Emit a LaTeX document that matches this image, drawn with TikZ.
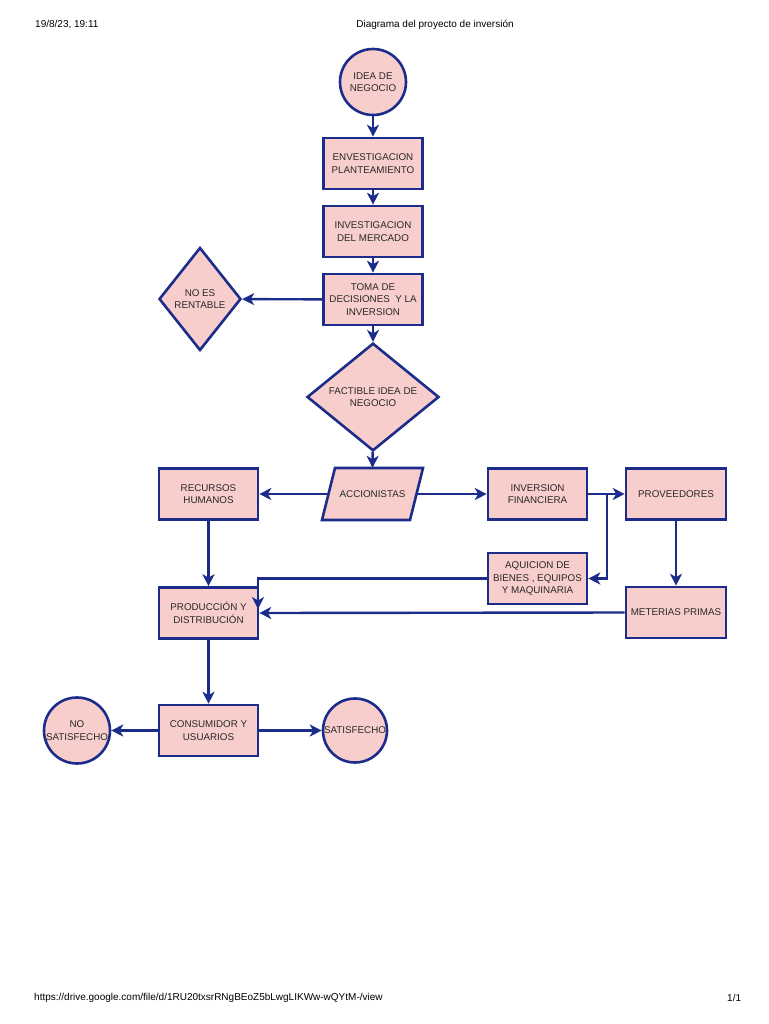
\documentclass[tikz,border=0pt]{standalone}
\usepackage{fontspec}
\setmainfont{Liberation Sans}
\usetikzlibrary{arrows.meta,shapes.geometric}
\definecolor{edgeblue}{RGB}{28,44,138}
\definecolor{boxfill}{RGB}{248,206,204}
\definecolor{txt}{RGB}{40,40,40}
\tikzset{
  base/.style={draw=edgeblue, line width=2.6pt, fill=boxfill, text=txt,
    font=\fontsize{9.8}{12.5}\selectfont, align=center, inner sep=0pt},
  boxnode/.style={base, rectangle, minimum width=99pt, minimum height=51pt},
  circnode/.style={base, circle, minimum size=66pt},
  diamnode/.style={base, diamond},
  conn/.style={draw=edgeblue, line width=2.4pt, -{Stealth[length=12pt,width=12pt,inset=3.5pt]}},
  hdr/.style={font=\fontsize{10}{12}\selectfont, text=black, inner sep=0pt}
}
\begin{document}
\begin{tikzpicture}[x=1pt,y=-1pt]
\useasboundingbox[fill=white] (0,0) rectangle (768,1024);
% header / footer
\node[hdr, anchor=west] (date) at (35,25) {19/8/23, 19:11};
\node[hdr] (title) at (435,25) {Diagrama del proyecto de inversión};
\node[hdr, anchor=west] (url) at (34,998) {https://drive.google.com/file/d/1RU20txsrRNgBEoZ5bLwgLIKWw-wQYtM-/view};
\node[hdr, anchor=west] (page) at (727,998) {1/1};
% nodes
\node[circnode] (idea) at (373,82) {IDEA DE\\NEGOCIO};
\node[boxnode] (env) at (373,163.5) {ENVESTIGACION\\PLANTEAMIENTO};
\node[boxnode] (inv) at (373,231.5) {INVESTIGACION\\DEL MERCADO};
\node[boxnode] (toma) at (373,299.5) {TOMA DE\\DECISIONES\ \ Y LA\\INVERSION};
\node[diamnode, minimum width=82pt, minimum height=103pt] (nor) at (200,299) {NO ES\\RENTABLE};
\node[diamnode, minimum width=132pt, minimum height=105pt] (fact) at (373,397) {FACTIBLE IDEA DE\\NEGOCIO};
% parallelogram
\draw[base] (335,468) -- (423,468) -- (410,520) -- (322,520) -- cycle;
\node[font=\fontsize{9.8}{12.5}\selectfont, text=txt, minimum width=87pt, minimum height=52pt, inner sep=0pt] (acc) at (372.5,494) {ACCIONISTAS};
\node[boxnode] (rh) at (208.5,494) {RECURSOS\\HUMANOS};
\node[boxnode] (if) at (537.5,494) {INVERSION\\FINANCIERA};
\node[boxnode, minimum width=100pt] (prov) at (676,494) {PROVEEDORES};
\node[boxnode] (aq) at (537.5,578.5) {AQUICION DE\\BIENES , EQUIPOS\\Y MAQUINARIA};
\node[boxnode, minimum width=100pt] (mp) at (676,612.5) {METERIAS PRIMAS};
\node[boxnode] (prod) at (208.5,613) {PRODUCCIÓN Y\\DISTRIBUCIÓN};
\node[boxnode] (cons) at (208.5,730.5) {CONSUMIDOR Y\\USUARIOS};
\node[circnode] (nos) at (77,730.5) {NO\\SATISFECHO};
\node[circnode, minimum size=64pt] (sat) at (355,730.5) {SATISFECHO};
% helper coordinates
\coordinate (split) at (607,494);
\coordinate (pin) at (258,609);
% connectors
\draw[conn] (idea) -- (env);
\draw[conn] (env) -- (inv);
\draw[conn] (inv) -- (toma);
\draw[conn] (toma) -- (nor);
\draw[conn] (toma) -- (fact);
\draw[conn] (fact) -- (acc.north);
\draw[conn] (acc.west) -- (rh.east);
\draw[conn] (acc.east) -- (if.west);
\draw[conn] (if.east) -- (prov.west);
\draw[conn] (split) |- (aq.east);
\draw[conn] (aq.west) -| (pin);
\draw[conn] (mp.west) -- (prod.east);
\draw[conn] (rh) -- (prod);
\draw[conn] (prov) -- (mp);
\draw[conn] (prod) -- (cons);
\draw[conn] (cons) -- (nos);
\draw[conn] (cons) -- (sat);
\end{tikzpicture}
\end{document}
